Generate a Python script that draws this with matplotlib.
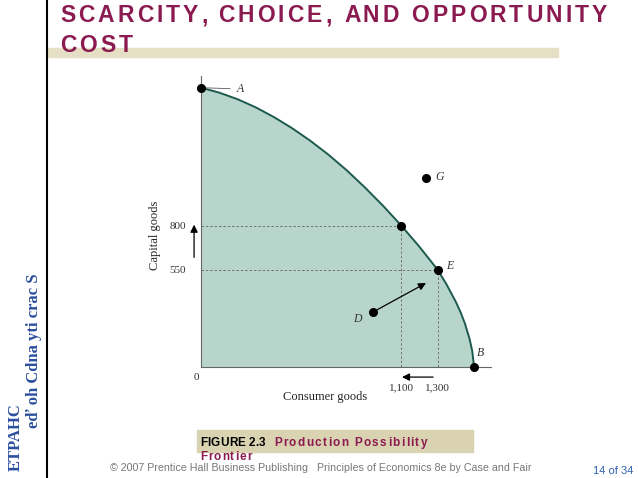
import matplotlib.pyplot as plt
from matplotlib.patches import Rectangle

# production possibility frontier
consumer = [0, 100, 200, 300, 400, 500, 600, 700, 800, 900, 1000,
            1100, 1200, 1300, 1350, 1400, 1425, 1450, 1475, 1490, 1500]
capital = [1580, 1552, 1515, 1469, 1414, 1351, 1280, 1201, 1113, 1016, 912,
           800, 680, 550, 465, 368, 312, 245, 160, 90, 0]

point_a = (0, 1580)
point_b = (1500, 0)
point_c = (1100, 800)
point_e = (1300, 550)
point_g = (1236, 1069)
point_d = (945, 311)
d_arrow_end = (1236, 475)

ytick_vals = [550, 800]
xtick_vals = [1100, 1300]
xtick_labels = ['1,100', '1,300']

maroon = '#8a1a50'
blue = '#2b4f9e'
fill_col = '#b8d5cb'
curve_col = '#1d5a4e'
serif = 'Liberation Serif'
sans = 'Liberation Sans'

fig = plt.figure(figsize=(6.38, 4.78), dpi=100)

# slide background in pixel units
bg = fig.add_axes([0, 0, 1, 1])
bg.set_xlim(0, 638)
bg.set_ylim(478, 0)
bg.axis('off')


def spaced(x, y, s, gap=None, end=None, **kw):
    r = fig.canvas.get_renderer()

    def width(txt):
        t = bg.text(0, 0, txt, **kw)
        w = t.get_window_extent(renderer=r).width
        t.remove()
        return w

    bar = width('|')
    if end is not None:
        gap = (end - x - width(s)) / (len(s) - 1)
    for i, ch in enumerate(s):
        if ch == ' ':
            continue
        dx = (width(s[:i] + '|') - bar if i else 0) + i * gap
        bg.text(x + dx, y, ch, **kw)
    return gap


bg.plot([47, 47], [0, 478], color='black', lw=1.5)
bg.add_patch(Rectangle((48, 48), 510, 9, color='#e4dfc5', zorder=0))

title_kw = dict(fontsize=16.5, fontweight='bold', family=sans, color=maroon,
                va='baseline', zorder=3)
g = spaced(60, 22, 'SCARCITY, CHOICE, AND OPPORTUNITY', end=607, **title_kw)
spaced(60, 52, 'COST', gap=g, **title_kw)

bg.text(16, 437, 'ETPAHC', rotation=90, ha='center', va='center',
        fontsize=12, family=serif, fontweight='bold', color=blue)
bg.text(34, 351, 'eď oh Cdna yti crac S', rotation=90, ha='center',
        va='center', fontsize=12, family=serif, fontweight='bold', color=blue)

# figure caption
bg.add_patch(Rectangle((197, 430), 276, 22, color='#d9d3b1', zorder=0))
cap_kw = dict(fontsize=8.5, fontweight='bold', family=sans, va='baseline')
spaced(200, 446, 'FIGURE 2.3', gap=0.2, color='black', **cap_kw)
spaced(274, 446, 'Production Possibility', end=427, color=maroon, **cap_kw)
spaced(200, 460, 'Frontier', gap=1.0, color=maroon, **cap_kw)

bg.text(110, 468, '\u00a9 2007 Prentice Hall Business Publishing   '
        'Principles of Economics 8e by Case and Fair',
        fontsize=7.7, family=sans, color='#777777', va='center')
bg.text(593, 471, '14 of 34', fontsize=8, family=sans, color='#2f62b0',
        va='center')

# chart
ax = fig.add_axes([201 / 638, 111 / 478, 290 / 638, 291 / 478])
ax.patch.set_alpha(0)
ax.set_xlim(0, 1593)
ax.set_ylim(0, 1646)

ax.fill_between(consumer, capital, 0, color=fill_col, lw=0)
ax.plot(consumer, capital, color=curve_col, lw=1.4)

dash = dict(color='0.45', lw=0.7, dashes=(2.5, 2))
for px, py in [point_c, point_e]:
    ax.plot([0, px], [py, py], **dash)
    ax.plot([px, px], [0, py], **dash)

for p in [point_a, point_b, point_c, point_e, point_g, point_d]:
    ax.plot(*p, 'o', color='black', ms=5.5, clip_on=False, zorder=5)

lab = dict(family=serif, style='italic', fontsize=8.5, color='0.2',
           textcoords='offset points', va='center')
ax.annotate('A', xy=point_a, xytext=(26, -1), ha='left',
            arrowprops=dict(arrowstyle='-', color='0.35', lw=0.6,
                            shrinkA=3, shrinkB=2), **lab)
ax.annotate('G', xy=point_g, xytext=(7, 1), ha='left', **lab)
ax.annotate('E', xy=point_e, xytext=(6, 3), ha='left', **lab)
ax.annotate('D', xy=point_d, xytext=(-8, -5), ha='right', **lab)
ax.annotate('B', xy=point_b, xytext=(2, 10), ha='left', **lab)

ax.annotate('', xy=d_arrow_end, xytext=point_d,
            arrowprops=dict(arrowstyle='-|>', color='black', lw=0.9,
                            mutation_scale=11, shrinkA=3, shrinkB=0))
ax.annotate('', xy=(-38, 805), xytext=(-38, 620), annotation_clip=False,
            arrowprops=dict(arrowstyle='-|>', color='black', lw=0.9,
                            mutation_scale=11, shrinkA=0, shrinkB=0))
ax.annotate('', xy=(1104, -57), xytext=(1275, -57), annotation_clip=False,
            arrowprops=dict(arrowstyle='-|>', color='black', lw=0.9,
                            mutation_scale=11, shrinkA=0, shrinkB=0))

for side in ['top', 'right']:
    ax.spines[side].set_visible(False)
for side in ['left', 'bottom']:
    ax.spines[side].set_color('0.4')
    ax.spines[side].set_linewidth(0.8)

ax.set_yticks(ytick_vals)
ax.set_xticks(xtick_vals)
ax.set_xticklabels(xtick_labels)
ax.tick_params(length=0, labelsize=8, colors='0.2')
ax.tick_params(axis='y', pad=11)
ax.tick_params(axis='x', pad=12)
for t in ax.get_xticklabels() + ax.get_yticklabels():
    t.set_family(serif)
ax.text(-27, -60, '0', family=serif, fontsize=8, color='0.2',
        ha='center', va='center', clip_on=False)

ax.set_xlabel('Consumer goods', family=serif, fontsize=9, color='0.15')
ax.set_ylabel('Capital goods', family=serif, fontsize=9, color='0.15')
ax.xaxis.set_label_coords(0.428, -0.103)
ax.yaxis.set_label_coords(-0.159, 0.454)
ax.xaxis.label.set_va('center')
ax.yaxis.label.set_va('center')

fig.savefig('out.png', dpi=100)
